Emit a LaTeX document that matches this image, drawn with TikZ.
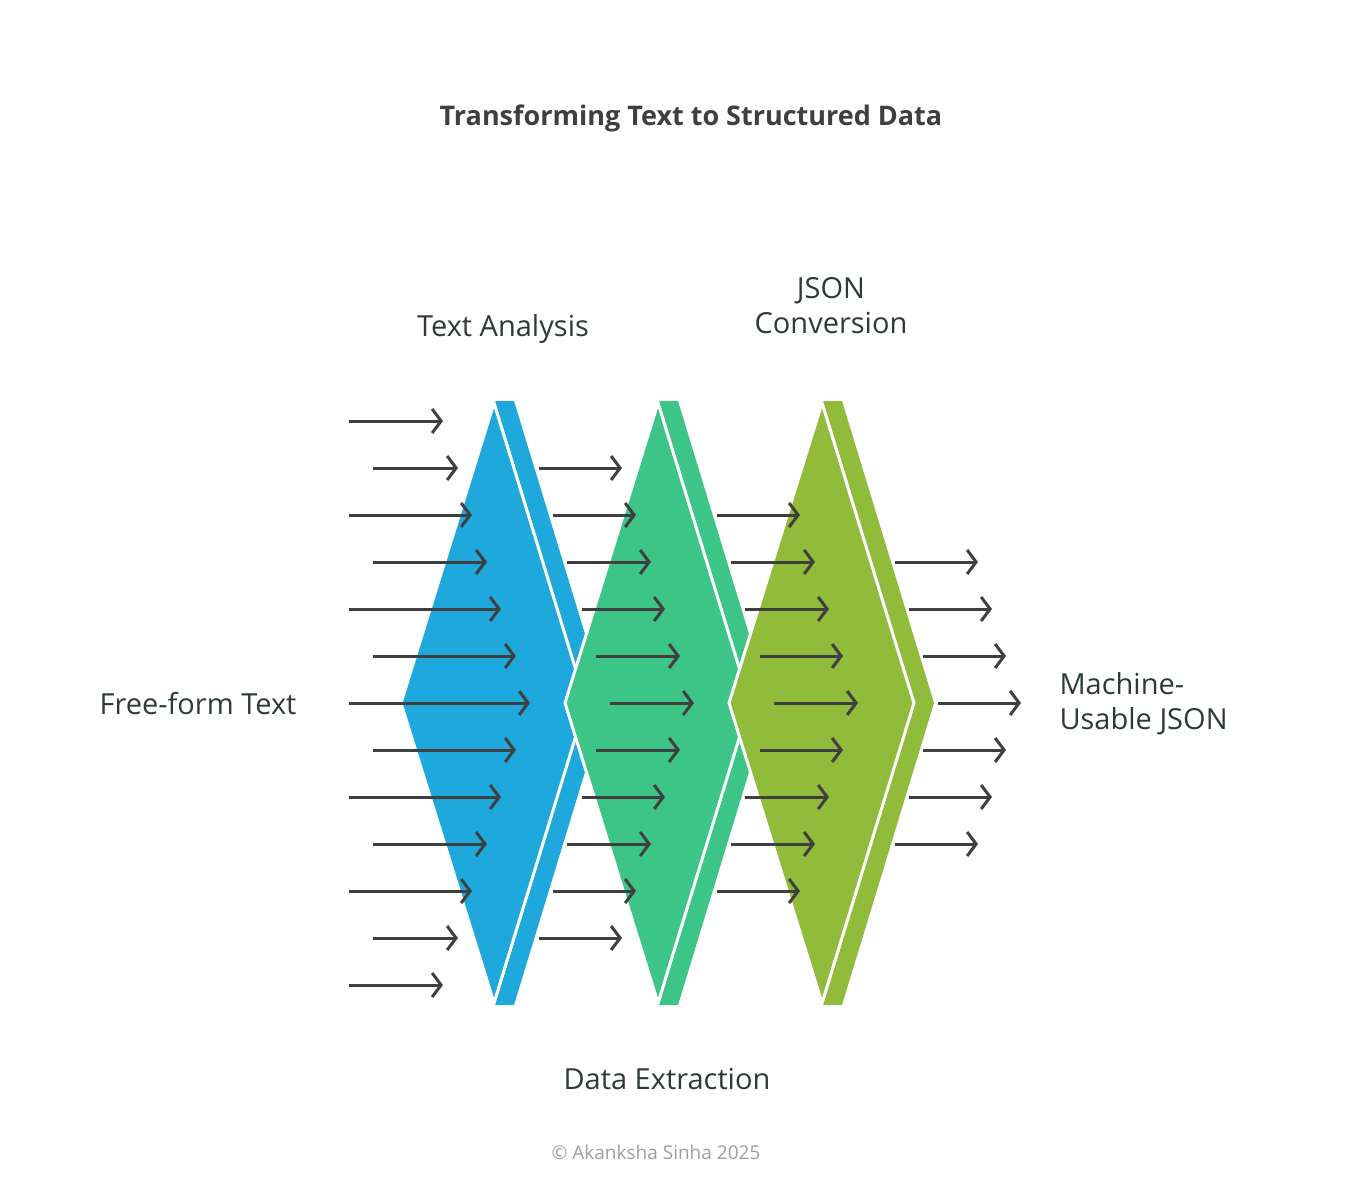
\documentclass[tikz,border=0pt]{standalone}
\usepackage{fontspec}
\setmainfont{Open Sans}
\usetikzlibrary{arrows.meta}
\definecolor{cblue}{HTML}{1EA8DB}
\definecolor{cgreen}{HTML}{3DC487}
\definecolor{colive}{HTML}{91BB3B}
\definecolor{ink}{HTML}{3F3F3F}
\definecolor{txt}{HTML}{2E3A36}
\tikzset{
 arr/.style={draw=ink,line width=3pt,-{Straight Barb[length=9pt,width=24pt,line width=3pt]}},
 lbl/.style={text=txt,font=\fontsize{29}{35}\selectfont,align=left}
}
\begin{document}
\begin{tikzpicture}[x=1pt,y=-1pt]
\useasboundingbox (0,0) rectangle (1358,1196);
\foreach \cx/\c in {494/cblue,658/cgreen,822/colive}{
  \fill[\c] (\cx+1,401) -- (\cx+20,401) -- (\cx+112,703) -- (\cx+20,1005) -- (\cx+1,1005) -- (\cx+93,703) -- cycle;
  \filldraw[fill=\c,draw=white,line width=3pt,line join=miter] (\cx,403) -- (\cx+92,703) -- (\cx,1003) -- (\cx-93,703) -- cycle;
}
% group 1
\foreach \i/\s/\e in {0/349/443,1/373/458,2/349/472,3/373/487,4/349/501,5/373/516,6/349/530,7/373/516,8/349/501,9/373/487,10/349/472,11/373/458,12/349/443}
  \draw[arr] (\s,421+47*\i) -- (\e,421+47*\i);
\foreach \i/\s/\e in {1/539/622,2/553/636,3/567/651,4/582/665,5/596/680,6/610/694,7/596/680,8/582/665,9/567/651,10/553/636,11/539/622}
  \draw[arr] (\s,421+47*\i) -- (\e,421+47*\i);
\foreach \i/\s/\e in {2/717/800,3/731/815,4/745/829,5/760/843,6/774/858,7/760/843,8/745/829,9/731/815,10/717/800}
  \draw[arr] (\s,421+47*\i) -- (\e,421+47*\i);
\foreach \i/\s/\e in {3/895/978,4/909/992,5/923/1006,6/938/1021,7/923/1006,8/909/992,9/895/978}
  \draw[arr] (\s,421+47*\i) -- (\e,421+47*\i);
\node[text=ink,font=\fontsize{27}{32}\selectfont\bfseries] (title) at (691,118) {Transforming Text to Structured Data};
\node[lbl] (ta) at (503,329) {Text Analysis};
\node[lbl,align=center] (jc) at (831,306) {JSON\\Conversion};
\node[lbl] (ff) at (198,704) {Free-form Text};
\node[lbl,anchor=west] (mu) at (1056,704) {Machine-\\Usable JSON};
\node[lbl] (de) at (667,1079) {Data Extraction};
\node[text=black!38,font=\fontsize{19}{23}\selectfont] (cp) at (656,1152) {© Akanksha Sinha 2025};
\end{tikzpicture}
\end{document}
